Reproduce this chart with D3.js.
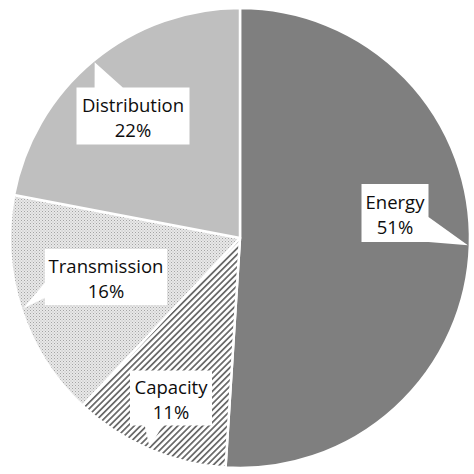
<!DOCTYPE html>
<html><head><meta charset="utf-8">
<script src="https://cdn.jsdelivr.net/npm/d3@7"></script>
<style>html,body{margin:0;padding:0;background:#fff;}svg{display:block;}</style>
</head><body>
<svg id="chart" width="474" height="474"></svg>
<script>
const categories = ["Energy", "Capacity", "Transmission", "Distribution"];
const values = [51, 11, 16, 22];
const labels = ["51%", "11%", "16%", "22%"];

// layout of callouts (box centre offset from pie centre, size, pointer side & base fractions)
const calloutLayout = [
  {dx: 155, dy: -25, w: 67, h: 58, side: "right", f0: 0.57, f1: 1.0},
  {dx: -69, dy: 160, w: 82, h: 55, side: "bottom", f0: 0.18, f1: 0.40},
  {dx: -134, dy: 39, w: 122, h: 56, side: "left", f0: 0.60, f1: 0.87},
  {dx: -107, dy: -122, w: 113, h: 57, side: "top", f0: 0.16, f1: 0.41}
];

const W = 474, H = 474, cx = 240, cy = 238, R = 230;
const svg = d3.select("#chart");
const defs = svg.append("defs");

const hatch = defs.append("pattern").attr("id", "hatch").attr("patternUnits", "userSpaceOnUse")
  .attr("width", 4.4).attr("height", 4.4).attr("patternTransform", "rotate(45)");
hatch.append("rect").attr("width", 4.4).attr("height", 4.4).attr("fill", "#fff");
hatch.append("rect").attr("width", 1.7).attr("height", 4.4).attr("fill", "#666");

const dots = defs.append("pattern").attr("id", "dots").attr("patternUnits", "userSpaceOnUse")
  .attr("width", 3).attr("height", 3);
dots.append("rect").attr("width", 3).attr("height", 3).attr("fill", "#e8e8e8");
dots.append("rect").attr("width", 1).attr("height", 1).attr("fill", "#a4a4a4");
dots.append("rect").attr("x", 1.5).attr("y", 1.5).attr("width", 1).attr("height", 1).attr("fill", "#bababa");

const fills = d3.scaleOrdinal().domain(categories)
  .range(["#7f7f7f", "url(#hatch)", "url(#dots)", "#bfbfbf"]);

const pie = d3.pie().sort(null).value(d => d.v);
const data = categories.map((c, i) => ({c, v: values[i], label: labels[i], lay: calloutLayout[i]}));
const arcs = pie(data);
const arc = d3.arc().innerRadius(0).outerRadius(R);

const g = svg.append("g").attr("transform", `translate(${cx},${cy})`);
g.selectAll("path.slice").data(arcs).join("path")
  .attr("class", "slice")
  .attr("d", arc)
  .attr("fill", d => fills(d.data.c))
  .attr("stroke", "#fff").attr("stroke-width", 2.5).attr("stroke-linejoin", "round");

// callouts
const tipR = R - 2;
arcs.forEach(a => {
  const L = a.data.lay;
  const mid = (a.startAngle + a.endAngle) / 2;
  const tx = tipR * Math.sin(mid), ty = -tipR * Math.cos(mid);
  const x0 = L.dx - L.w / 2, y0 = L.dy - L.h / 2, x1 = x0 + L.w, y1 = y0 + L.h;
  let pts = [];
  const tl = [x0, y0], tr = [x1, y0], br = [x1, y1], bl = [x0, y1];
  if (L.side === "top") {
    const a0 = x0 + L.w * L.f0, a1 = x0 + L.w * L.f1;
    pts = [tl, [a0, y0], [tx, ty], [a1, y0], tr, br, bl];
  } else if (L.side === "right") {
    const a0 = y0 + L.h * L.f0, a1 = y0 + L.h * L.f1;
    pts = [tl, tr, [x1, a0], [tx, ty], [x1, a1], br, bl];
  } else if (L.side === "bottom") {
    const a0 = x0 + L.w * L.f0, a1 = x0 + L.w * L.f1;
    pts = [tl, tr, br, [a1, y1], [tx, ty], [a0, y1], bl];
  } else {
    const a0 = y0 + L.h * L.f0, a1 = y0 + L.h * L.f1;
    pts = [tl, tr, br, bl, [x0, a1], [tx, ty], [x0, a0]];
  }
  g.append("path").attr("d", d3.line()(pts) + "Z").attr("fill", "#fff");
  const t = g.append("text").attr("text-anchor", "middle")
    .attr("font-family", "'Open Sans', sans-serif").attr("font-size", 18.5).attr("fill", "#0d0d0d");
  t.append("tspan").attr("x", L.dx).attr("y", L.dy - 4).text(a.data.c);
  t.append("tspan").attr("x", L.dx).attr("y", L.dy + 21).text(a.data.label);
});
</script>
</body></html>
